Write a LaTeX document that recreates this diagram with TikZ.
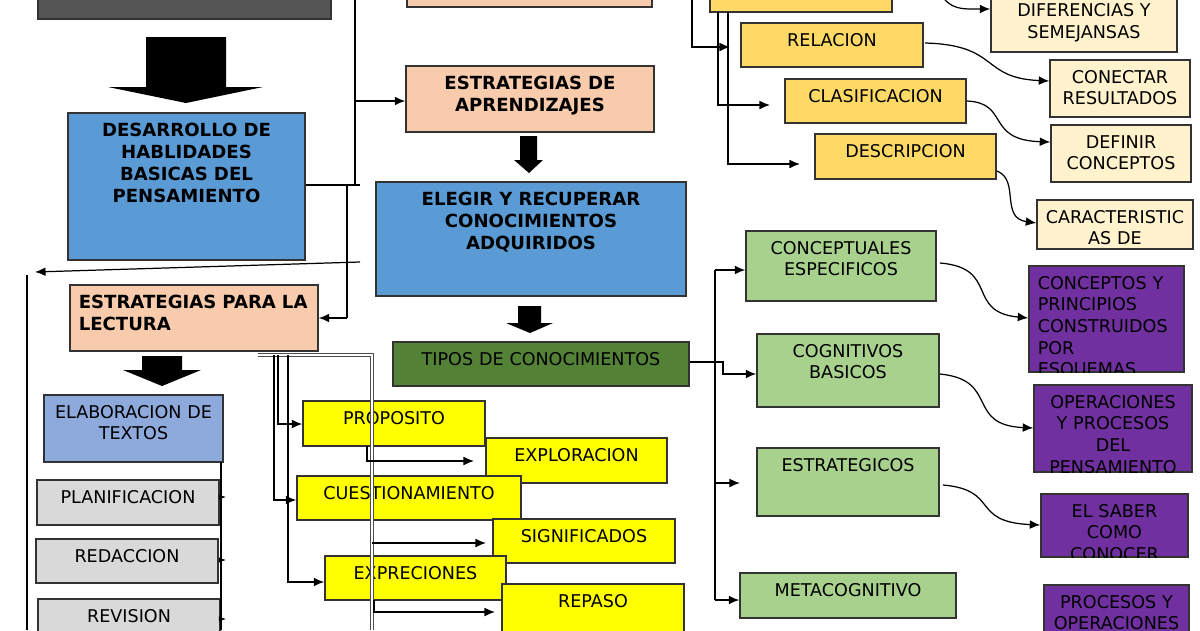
\documentclass[tikz,border=0pt]{standalone}
\usepackage{fontspec}
\setmainfont{DejaVu Sans}
\usetikzlibrary{fit,arrows.meta}
\definecolor{dgray}{HTML}{555555}
\definecolor{bblue}{HTML}{5B9BD5}
\definecolor{peach}{HTML}{F8CBAD}
\definecolor{lblue}{HTML}{8EA9DB}
\definecolor{lgray}{HTML}{D9D9D9}
\definecolor{yel}{HTML}{FFFF00}
\definecolor{dgreen}{HTML}{538135}
\definecolor{lgreen}{HTML}{A9D18E}
\definecolor{purp}{HTML}{7030A0}
\definecolor{gold}{HTML}{FFD966}
\definecolor{cream}{HTML}{FFF2CC}
\tikzset{
 bxs/.style={draw=black!80, line width=0.8pt, inner sep=0pt},
 txc/.style={align=center, font=\fontsize{10}{12.3}\selectfont},
 txb/.style={align=center, font=\fontsize{10.3}{12.5}\selectfont\bfseries},
 txl/.style={align=left, font=\fontsize{10}{12.3}\selectfont},
 txlb/.style={align=left, font=\fontsize{10.3}{12.5}\selectfont\bfseries},
 con/.style={line width=0.7pt, -{Latex[length=6pt,width=5pt]}},
 ln/.style={line width=0.7pt},
}
\newcommand\bx[8]{%
 \node[bxs, fill=#6, fit={(#2,#3)(#4,#5)}] (#1) {};
 \begin{scope}
 \clip (#2,#3) rectangle (#4,#5);
 \node[#7, anchor=north, inner sep=0pt, text width={((#4)-(#2))*0.02cm-10pt}] at ([yshift=-6pt]#1.north) {#8};
 \end{scope}}
\begin{document}
\begin{tikzpicture}[x=0.02cm,y=-0.02cm]
\clip (0,0) rectangle (1200,630);
\fill[white] (0,0) rectangle (1200,630);
% left column
\bx{dg}{38}{-40}{331}{19}{dgray}{txb}{}
\fill[black] (146,37) -- (226,37) -- (226,87) -- (263,87) -- (186,103) -- (108,87) -- (146,87) -- cycle;
\bx{des}{68}{113}{305}{260}{bblue}{txb}{DESARROLLO DE\\HABLIDADES\\BASICAS DEL\\PENSAMIENTO}
\bx{pt}{407}{-40}{652}{7}{peach}{txb}{}
\bx{apr}{406}{66}{654}{132}{peach}{txb}{ESTRATEGIAS DE\\APRENDIZAJES}
\fill[black] (520,136) -- (537,136) -- (537,160) -- (543,160) -- (529,173) -- (514,160) -- (520,160) -- cycle;
\bx{ele}{376}{182}{686}{296}{bblue}{txb}{ELEGIR Y RECUPERAR\\CONOCIMIENTOS\\ADQUIRIDOS}
\bx{lec}{70}{285}{318}{351}{peach}{txlb}{ESTRATEGIAS PARA LA\\LECTURA}
\fill[black] (142,356) -- (182,356) -- (182,370) -- (201,370) -- (162,386) -- (123,370) -- (142,370) -- cycle;
\bx{ela}{44}{395}{223}{462}{lblue}{txc}{ELABORACION DE\\TEXTOS}
\bx{pla}{37}{480}{219}{525}{lgray}{txc}{PLANIFICACION}
\bx{red}{36}{539}{218}{583}{lgray}{txc}{REDACCION}
\bx{rev}{38}{599}{220}{650}{lgray}{txc}{REVISION}
% connectors left
\coordinate (t1) at (355,0);
\draw[ln] (des.east |- 0,185) -- (360,185);
\draw[ln] (t1) -- (355,185);
\draw[con] (355,101) -- (apr.west |- 0,101);
\draw[ln] (347,186) -- (347,318);
\draw[con] (347,318) -- (lec.east |- 0,318);
\coordinate (lx) at (360,262);
\draw[con] (lx) -- (35,272);
\draw[ln] (27,275) -- (27,630);
\draw[ln] (221,462) -- (221,630);
\foreach \yy in {497,560,619} \draw[-{Latex[length=4pt,width=3pt]},line width=0.5pt] (219,\yy) -- (226,\yy);
% yellow
\bx{pro}{303}{401}{485}{446}{yel}{txc}{PROPOSITO}
\bx{exp}{486}{438}{667}{483}{yel}{txc}{EXPLORACION}
\bx{cue}{297}{476}{521}{520}{yel}{txc}{CUESTIONAMIENTO}
\bx{sig}{493}{519}{675}{563}{yel}{txc}{SIGNIFICADOS}
\bx{exr}{325}{556}{506}{600}{yel}{txc}{EXPRECIONES}
\bx{rep}{502}{584}{684}{640}{yel}{txc}{REPASO}
\draw[line width=2pt,black!70] (258,355) -- (372,355) -- (372,630);
\draw[line width=0.7pt,white] (258,355) -- (372,355) -- (372,630);
\draw[con] (278,355) -- (278,424) -- (pro.west |- 0,424);
\draw[con] (274,355) -- (274,500) -- (cue.west |- 0,500);
\draw[con] (288,355) -- (288,582) -- (exr.west |- 0,582);
\draw[con] (367,446) -- (367,461) -- (474,461);
\draw[con] (372,543) -- (486,543);
\draw[con] (374,600) -- (374,612) -- (495,612);
% middle right
\fill[black] (518,306) -- (541,306) -- (541,323) -- (553,323) -- (530,333) -- (506,323) -- (518,323) -- cycle;
\bx{tip}{393}{342}{689}{386}{dgreen}{txc}{TIPOS DE CONOCIMIENTOS}
\bx{cpt}{746}{231}{936}{301}{lgreen}{txc}{CONCEPTUALES\\ESPECIFICOS}
\bx{cog}{757}{334}{939}{407}{lgreen}{txc}{COGNITIVOS\\BASICOS}
\bx{est}{757}{448}{939}{516}{lgreen}{txc}{ESTRATEGICOS}
\bx{met}{740}{573}{956}{618}{lgreen}{txc}{METACOGNITIVO}
\draw[ln] (tip.east |- 0,362) -- (715,362);
\draw[ln] (715,270) -- (715,600);
\draw[con] (715,270) -- (cpt.west |- 0,270);
\draw[con] (715,362) -- (723,362) -- (723,374) -- (cog.west |- 0,374);
\draw[con] (715,483) -- (740,483);
\draw[con] (715,600) -- (met.west |- 0,600);
\bx{pu1}{1029}{266}{1184}{372}{purp}{txl}{CONCEPTOS Y\\PRINCIPIOS\\CONSTRUIDOS\\POR\\ESQUEMAS}
\bx{pu2}{1034}{385}{1192}{472}{purp}{txc}{OPERACIONES\\Y PROCESOS\\DEL\\PENSAMIENTO}
\bx{pu3}{1041}{494}{1188}{557}{purp}{txc}{EL SABER\\COMO\\CONOCER}
\bx{pu4}{1044}{585}{1189}{650}{purp}{txc}{PROCESOS Y\\OPERACIONES}
\draw[con] (940,263) .. controls (1000,268) and (965,312) .. (pu1.west |- 0,318);
\draw[con] (940,374) .. controls (1000,380) and (965,425) .. (pu2.west |- 0,428);
\draw[con] (943,485) .. controls (1000,490) and (970,522) .. (pu3.west |- 0,525);
% top right
\bx{g0}{710}{-40}{892}{12}{gold}{txc}{}
\bx{rel}{741}{23}{923}{67}{gold}{txc}{RELACION}
\bx{cla}{785}{79}{966}{123}{gold}{txc}{CLASIFICACION}
\bx{dsc}{815}{134}{996}{179}{gold}{txc}{DESCRIPCION}
\draw[con] (692,0) -- (692,47) -- (730,47);
\draw[con] (718,12) -- (718,105) -- (770,105);
\draw[con] (728,12) -- (728,164) -- (800,164);
\begin{scope}
\clip (991,-40) rectangle (1177,52);
\node[bxs, fill=cream, fit={(991,-40)(1177,52)}] (c0) {};
\node[txc, anchor=south, inner sep=0pt] at ([yshift=6pt]c0.south) {ESTABLECER\\DIFERENCIAS Y\\SEMEJANSAS};
\end{scope}
\draw[bxs] (991,-40) rectangle (1177,52);
\bx{c1}{1050}{60}{1190}{117}{cream}{txc}{CONECTAR\\RESULTADOS}
\bx{c2}{1051}{125}{1191}{182}{cream}{txc}{DEFINIR\\CONCEPTOS}
\bx{c3}{1037}{200}{1193}{249}{cream}{txc}{CARACTERISTIC\\AS DE}
\coordinate (cc) at (945,0);
\draw[con] (cc) .. controls (955,10) and (965,9) .. (c0.west |- 0,9);
\draw[con] (925,43) .. controls (1000,45) and (980,78) .. (c1.west |- 0,81);
\draw[con] (967,101) .. controls (1010,103) and (985,140) .. (c2.west |- 0,142);
\draw[con] (997,171) .. controls (1020,180) and (1000,218) .. (c3.west |- 0,223);
\end{tikzpicture}
\end{document}
